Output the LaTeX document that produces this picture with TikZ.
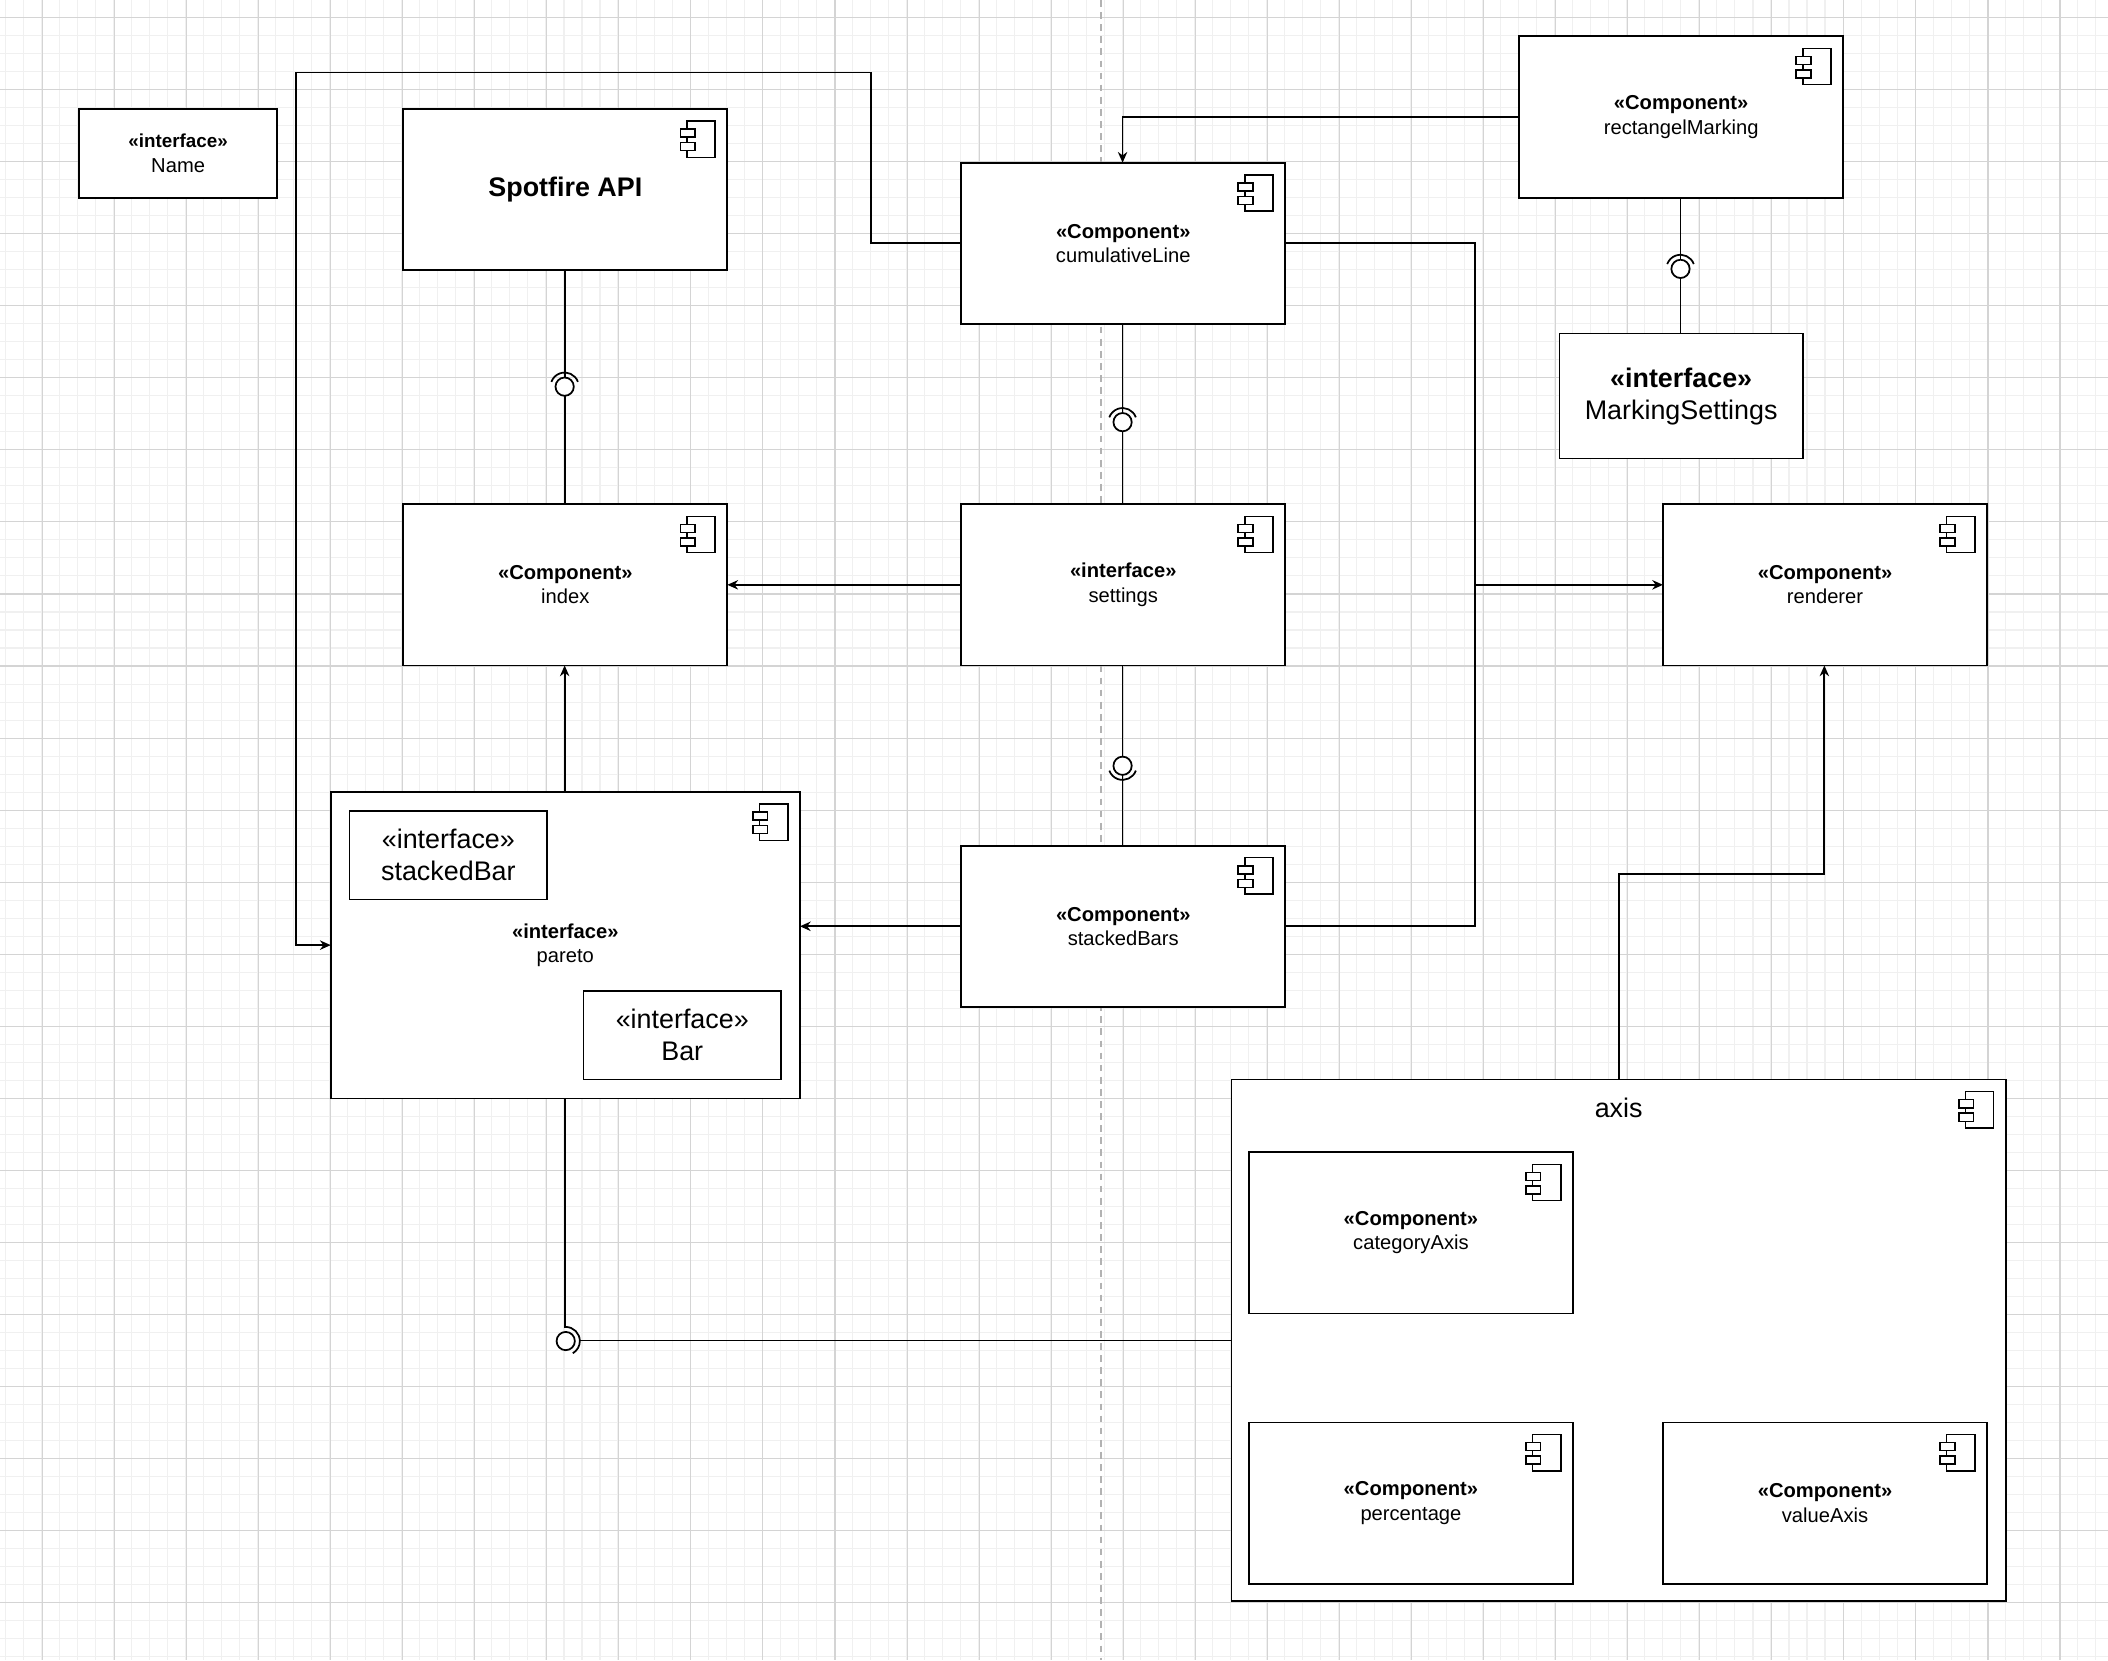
\documentclass[tikz,border=0pt]{standalone}
\usepackage{fontspec}
\setmainfont{Liberation Sans}
\usetikzlibrary{arrows.meta}
\begin{document}
\begin{tikzpicture}[x=1pt,y=-1pt,
  box/.style={draw=black,line width=1.3pt,fill=white},
  ln/.style={draw=black,line width=1.3pt},
  arr/.style={ln,-{Stealth[length=8pt,width=7pt]}},
  lab/.style={align=center,font=\fontsize{15}{18}\selectfont},
  big/.style={align=center,font=\fontsize{20}{24}\selectfont}]
\useasboundingbox (0,0) rectangle (1568,1235);
\fill[white] (0,0) rectangle (1568,1235);
% grid
\foreach \i in {0,...,120} {\draw[color=black!6,line width=0.8pt] ({4.1+13.4*\i},0) -- ({4.1+13.4*\i},1235);}
\foreach \i in {0,...,95} {\draw[color=black!6,line width=0.8pt] (0,{-0.4+13.4*\i}) -- (1568,{-0.4+13.4*\i});}
\foreach \i in {0,...,30} {\draw[color=black!17,line width=0.8pt] ({31.5+53.6*\i},0) -- ({31.5+53.6*\i},1235);}
\foreach \i in {0,...,23} {\draw[color=black!17,line width=0.8pt] (0,{13+53.6*\i}) -- (1568,{13+53.6*\i});}
\draw[color=black!30,line width=1pt,dash pattern=on 5pt off 4pt] (819,0) -- (819,1235);
% icon macro
\newcommand{\cicon}[2]{%
 \draw[ln,line width=1.1pt,fill=white] ({#1-30},{#2+9}) rectangle ({#1-9},{#2+36});
 \draw[ln,line width=1.1pt,fill=white] ({#1-35},{#2+15}) rectangle ({#1-24},{#2+21});
 \draw[ln,line width=1.1pt,fill=white] ({#1-35},{#2+25}) rectangle ({#1-24},{#2+31});}
% ball-socket
\newcommand{\ballsock}[4]{%
 \draw[ln,fill=white] (#1,#2) circle[radius=6.8];
 \draw[ln] ([shift={(#3:10.5)}]#1,#2) arc[start angle=#3,end angle=#4,radius=10.5];}
% connectors first
\coordinate (c1) at (648,181); \coordinate (c2) at (648,54); \coordinate (c3) at (220,54); \coordinate (c4) at (220,703);
\draw[ln] (420,201) -- (420,375);
\draw[ln] (835,241) -- (835,375);
\draw[ln] (835,495) -- (835,629);
\draw[ln] (1250,147) -- (1250,248);
\draw[ln] (420,817) -- (420,987.5);
\draw[ln] (431,997) -- (916,997);
\draw[arr] (1130,87) -- (835,87) -- (835,121);
\draw[arr] (715,181) -- (c1) -- (c2) -- (c3) -- (c4) -- (246,703);
\draw[ln] (956,181) -- (1097,181) -- (1097,689) -- (956,689);
\draw[arr] (1097,435) -- (1237,435);
\draw[arr] (715,435) -- (541,435);
\draw[arr] (715,689) -- (595,689);
\draw[arr] (420,589) -- (420,495);
\draw[arr] (1204,803) -- (1204,650) -- (1357,650) -- (1357,495);
\ballsock{420}{287.6}{-20}{-160}
\ballsock{835}{314}{-20}{-160}
\ballsock{1250}{200}{-20}{-160}
\ballsock{835}{569.6}{20}{160}
\ballsock{420.8}{997.5}{-90}{60}
% nodes
\draw[box] (59,81) rectangle (206,147);
\node[lab] (name) at (132.5,114) {\textbf{\fontsize{14}{17}\selectfont «interface»}\\Name};
\draw[box] (300,81) rectangle (541,201); \cicon{541}{81}
\node[big] (api) at (420.5,141) {\textbf{Spotfire API}};
\draw[box] (715,121) rectangle (956,241); \cicon{956}{121}
\node[lab] (cum) at (835.5,181) {\textbf{<<Component>>}\\cumulativeLine};
\draw[box] (1130,27) rectangle (1371,147); \cicon{1371}{27}
\node[lab] (rect) at (1250.5,87) {\textbf{<<Component>>}\\rectangelMarking};
\draw[box] (1160,248) rectangle (1341,341);
\node[big] (ms) at (1250.5,295) {\textbf{«interface»}\\MarkingSettings};
\draw[box] (300,375) rectangle (541,495); \cicon{541}{375}
\node[lab] (idx) at (420.5,435) {\textbf{<<Component>>}\\index};
\draw[box] (715,375) rectangle (956,495); \cicon{956}{375}
\node[lab] (set) at (835.5,435) {\textbf{<<interface>>}\\settings};
\draw[box] (1237,375) rectangle (1478,495); \cicon{1478}{375}
\node[lab] (ren) at (1357.5,435) {\textbf{<<Component>>}\\renderer};
\draw[box] (246,589) rectangle (595,817); \cicon{595}{589}
\node[lab] (par) at (420.5,703) {\textbf{<<interface>>}\\pareto};
\draw[box] (260,603) rectangle (407,669);
\node[big] (sb) at (333.5,636) {«interface»\\stackedBar};
\draw[box] (434,737) rectangle (581,803);
\node[big] (bar) at (507.5,770) {«interface»\\Bar};
\draw[box] (715,629) rectangle (956,749); \cicon{956}{629}
\node[lab] (sbs) at (835.5,689) {\textbf{<<Component>>}\\stackedBars};
\draw[box] (916,803) rectangle (1492,1191); \cicon{1492}{803}
\node[big] (axis) at (1204,824) {axis};
\draw[box] (929,857) rectangle (1170,977); \cicon{1170}{857}
\node[lab] (cat) at (1049.5,917) {\textbf{<<Component>>}\\categoryAxis};
\draw[box] (929,1058) rectangle (1170,1178); \cicon{1170}{1058}
\node[lab] (pct) at (1049.5,1118) {\textbf{<<Component>>}\\percentage};
\draw[box] (1237,1058) rectangle (1478,1178); \cicon{1478}{1058}
\node[lab] (val) at (1357.5,1118) {\textbf{<<Component>>}\\valueAxis};
\end{tikzpicture}
\end{document}
